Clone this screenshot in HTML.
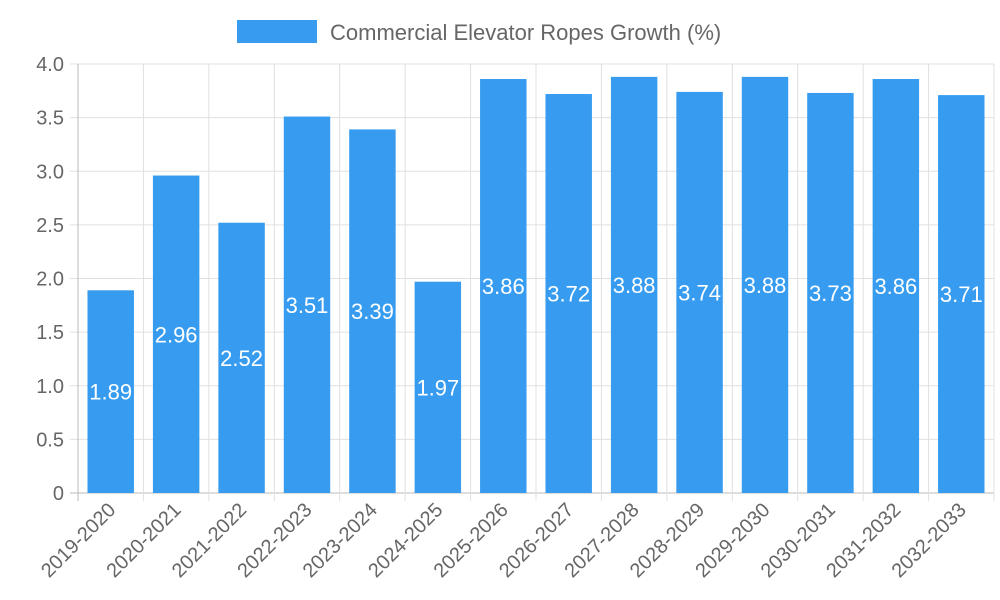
<!DOCTYPE html>
<html><head><meta charset="utf-8"><style>
body{margin:0;background:#fff;}
svg{display:block;font-family:"Liberation Sans",sans-serif;}
</style></head><body>
<svg id="chart" width="1000" height="600">
<rect x="237" y="20" width="80" height="23" fill="#379cf0"/>
<text x="330" y="40" font-size="22" fill="#666">Commercial Elevator Ropes Growth (%)</text>
<g id="grid"></g><g id="bars"></g><g id="labels"></g>
</svg>
<script>
const categories=["2019-2020","2020-2021","2021-2022","2022-2023","2023-2024","2024-2025","2025-2026","2026-2027","2027-2028","2028-2029","2029-2030","2030-2031","2031-2032","2032-2033"];
const values=[1.89,2.96,2.52,3.51,3.39,1.97,3.86,3.72,3.88,3.74,3.88,3.73,3.86,3.71];
const yTicks=[0,0.5,1,1.5,2,2.5,3,3.5,4];
const yTickLabels=["0","0.5","1.0","1.5","2.0","2.5","3.0","3.5","4.0"];
const NS="http://www.w3.org/2000/svg";
const L=78,R=994,T=64,B=493,yMax=4;
const bw=(R-L)/categories.length;
const y=v=>B-(v/yMax)*(B-T);
const x=i=>L+i*bw;
function mk(tag,attrs,parent){const e=document.createElementNS(NS,tag);for(const k in attrs)e.setAttribute(k,attrs[k]);parent.appendChild(e);return e;}
const grid=document.getElementById('grid'),bars=document.getElementById('bars'),labels=document.getElementById('labels');
yTicks.forEach((t,i)=>{
 const g=mk('line',{x1:L-8,x2:R,y1:y(t),y2:y(t),stroke:i===0?'#bbb':'#e0e0e0','stroke-width':1},grid);
 
 
 const tx=mk('text',{x:L-14,y:y(t)+7,'text-anchor':'end','font-size':20,fill:'#666'},labels);
 tx.textContent=yTickLabels[i];
 
 
});
for(let i=0;i<=categories.length;i++){
 const g=mk('line',{x1:x(i),x2:x(i),y1:T,y2:B+8,stroke:i===0?'#bbb':'#e0e0e0','stroke-width':1},grid);
 
 
}
categories.forEach((c,i)=>{
 const cx=x(i)+bw/2,w=bw*0.71;
 const r=mk('rect',{x:cx-w/2,y:y(values[i]),width:w,height:B-y(values[i]),fill:'#379cf0'},bars);
 
 
 const v=mk('text',{x:cx,y:(y(values[i])+B)/2+8,'text-anchor':'middle','font-size':22,fill:'#fff'},labels);
 v.textContent=values[i].toFixed(2);
 
 
 const t=mk('text',{x:cx+6,y:B+18,'text-anchor':'end','font-size':20,fill:'#666',transform:`rotate(-45 ${cx+6} ${B+18})`},labels);
 t.textContent=c;
 
 
});
</script>
</body></html>
